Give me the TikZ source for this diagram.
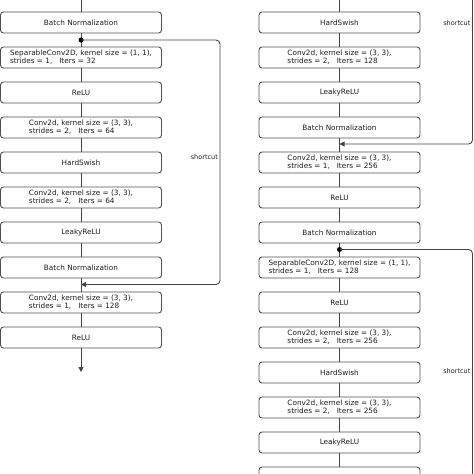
\documentclass[tikz,border=0pt]{standalone}
\usepackage{fontspec}
\setmainfont{DejaVu Sans}
\usetikzlibrary{arrows.meta}
\definecolor{edge}{HTML}{505050}
\definecolor{txt}{HTML}{1E1E1E}
\tikzset{
  layer/.style={draw=edge, line width=0.9pt, rounded corners=3pt, fill=white,
    minimum width=161pt, minimum height=21pt, inner sep=0pt, text=txt,
    font=\fontsize{7.3}{8.2}\selectfont, align=center},
  layer2/.style={layer, align=left},
  link/.style={draw=edge!85!black, line width=0.9pt},
  short/.style={link, rounded corners=4pt},
  tip/.style={-{Triangle[width=5pt,length=5pt]}},
  lab/.style={text=txt, font=\fontsize{6.5}{7}\selectfont, inner sep=0pt},
  jdot/.style={circle, fill=black, inner sep=0pt, minimum size=5pt},
}
\begin{document}
\begin{tikzpicture}[x=1pt,y=-1pt]
\useasboundingbox (0,0) rectangle (474,474);
\clip (0,0) rectangle (474,474);
\def\sp{\ \ \ }
% left column
\coordinate (ltop) at (81,0);
\node[layer]  (l1) at (81,22.5) {Batch Normalization};
\node[layer2] (l2) at (81,57.5) {SeparableConv2D, kernel size = (1, 1),\\strides = 1,\sp Iters = 32};
\node[layer]  (l3) at (81,92.5) {ReLU};
\node[layer2] (l4) at (81,127.5) {Conv2d, kernel size = (3, 3),\\strides = 2,\sp Iters = 64};
\node[layer]  (l5) at (81,162.5) {HardSwish};
\node[layer2] (l6) at (81,197.5) {Conv2d, kernel size = (3, 3),\\strides = 2,\sp Iters = 64};
\node[layer]  (l7) at (81,232.5) {LeakyReLU};
\node[layer]  (l8) at (81,267.5) {Batch Normalization};
\node[layer2] (l9) at (81,302.5) {Conv2d, kernel size = (3, 3),\\strides = 1,\sp Iters = 128};
\node[layer]  (l10) at (81,337.5) {ReLU};
\coordinate (lend) at (81,372);
\draw[link] (ltop) -- (l1);
\foreach \a/\b in {l1/l2,l2/l3,l3/l4,l4/l5,l5/l6,l6/l7,l7/l8,l8/l9,l9/l10} \draw[link] (\a) -- (\b);
\draw[link,tip] (l10) -- (lend);
\node[jdot] (ld) at (81,40) {};
\coordinate (lj) at (81,284.5);
\coordinate (lc1) at (220,40);
\coordinate (lc2) at (220,284.5);
\draw[short,tip] (ld.center) -- (lc1) -- (lc2) -- (lj);
\node[lab, anchor=east] (lsl) at (218,157) {shortcut};
% right column
\coordinate (rtop) at (339.5,0);
\node[layer]  (r1) at (339.5,22.5) {HardSwish};
\node[layer2] (r2) at (339.5,57.5) {Conv2d, kernel size = (3, 3),\\strides = 2,\sp Iters = 128};
\node[layer]  (r3) at (339.5,92.5) {LeakyReLU};
\node[layer]  (r4) at (339.5,127.5) {Batch Normalization};
\node[layer2] (r5) at (339.5,162.5) {Conv2d, kernel size = (3, 3),\\strides = 1,\sp Iters = 256};
\node[layer]  (r6) at (339.5,197.5) {ReLU};
\node[layer]  (r7) at (339.5,232.5) {Batch Normalization};
\node[layer2] (r8) at (339.5,267.5) {SeparableConv2D, kernel size = (1, 1),\\strides = 1,\sp Iters = 128};
\node[layer]  (r9) at (339.5,302.5) {ReLU};
\node[layer2] (r10) at (339.5,337.5) {Conv2d, kernel size = (3, 3),\\strides = 2,\sp Iters = 256};
\node[layer]  (r11) at (339.5,372.5) {HardSwish};
\node[layer2] (r12) at (339.5,407.5) {Conv2d, kernel size = (3, 3),\\strides = 2,\sp Iters = 256};
\node[layer]  (r13) at (339.5,442.5) {LeakyReLU};
\node[layer]  (r14) at (339.5,477.5) {};
\draw[link] (rtop) -- (r1);
\foreach \a/\b in {r1/r2,r2/r3,r3/r4,r4/r5,r5/r6,r6/r7,r7/r8,r8/r9,r9/r10,r10/r11,r11/r12,r12/r13,r13/r14} \draw[link] (\a) -- (\b);
\coordinate (rs0) at (472.5,-2);
\coordinate (rc1) at (472.5,144);
\coordinate (rj) at (339.5,144);
\draw[short,tip] (rs0) -- (rc1) -- (rj);
\node[lab, anchor=east] (rsl1) at (470.5,23) {shortcut};
\node[jdot] (rd) at (339.5,249.5) {};
\coordinate (rc2) at (472.5,249.5);
\coordinate (rc3) at (472.5,480);
\draw[short] (rd.center) -- (rc2) -- (rc3);
\node[lab, anchor=east] (rsl2) at (470.5,371) {shortcut};
\end{tikzpicture}
\end{document}
